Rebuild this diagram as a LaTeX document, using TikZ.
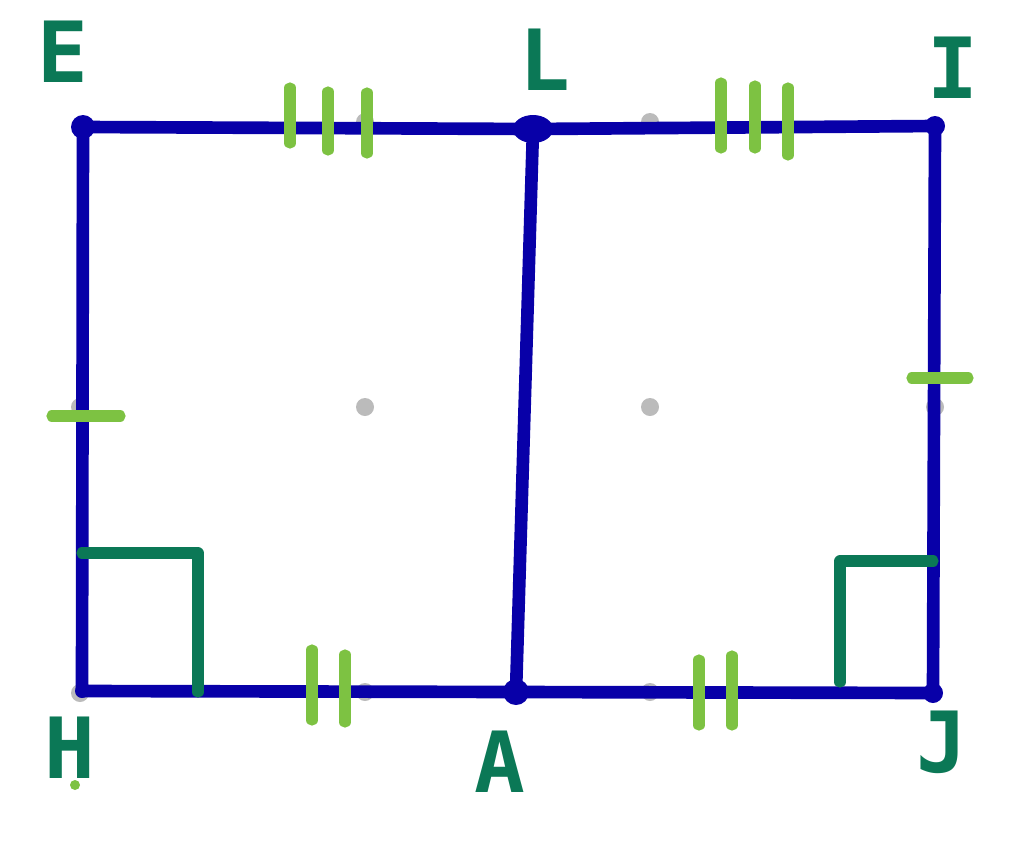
\documentclass[tikz,border=0pt]{standalone}
\usepackage{fontspec}
\newfontfamily\lblfont{DejaVu Sans Mono}
\definecolor{edgeblue}{HTML}{0800A8}
\definecolor{markgreen}{HTML}{0B7856}
\definecolor{tickgreen}{HTML}{7DC242}
\definecolor{griddot}{HTML}{BBBBBB}
\begin{document}
\begin{tikzpicture}[x=0.01cm,y=-0.01cm,
  edge/.style={draw=edgeblue,line width=3.6pt,line cap=round,line join=round},
  vdot/.style={fill=edgeblue},
  gdot/.style={fill=griddot},
  tick/.style={draw=tickgreen,line width=3.2pt,line cap=round},
  rangle/.style={draw=markgreen,line width=3.2pt,line cap=round,line join=round},
  lbl/.style={text=markgreen,font=\lblfont\bfseries\fontsize{24}{24}\selectfont,inner sep=0pt}]
\useasboundingbox (0,0) rectangle (1024,848);
% grid dots
\foreach \p in {(365,122),(650,122),(80,407),(365,407),(650,407),(935,407),(80,693),(365,692),(650,692)}
  \fill[gdot] \p circle (9);
% vertices
\coordinate (E) at (83,127);
\coordinate (L) at (533,129);
\coordinate (I) at (935,126);
\coordinate (H) at (82,691);
\coordinate (A) at (516,692);
\coordinate (J) at (933,693);
% edges
\draw[edge] (E) -- (L) -- (I) -- (J) -- (A) -- (H) -- cycle;
\draw[edge] (L) -- (A);
% vertex dots
\fill[vdot] (E) circle (12);
\fill[vdot] (L) ellipse (20 and 14);
\fill[vdot] (I) circle (10);
\fill[vdot] (A) circle (13);
\fill[vdot] (J) circle (10);
\fill[vdot] (H) circle (7);
% right angle marks
\draw[rangle] (82,553) -- (198,553) -- (198,692);
\draw[rangle] (933,561) -- (840,561) -- (840,682);
% tick marks
\draw[tick] (290,88) -- (290,143);
\draw[tick] (328,92) -- (328,150);
\draw[tick] (367,93) -- (367,153);
\draw[tick] (721,83) -- (721,148);
\draw[tick] (755,86) -- (755,148);
\draw[tick] (788,88) -- (788,155);
\draw[tick] (312,650) -- (312,720);
\draw[tick] (345,655) -- (345,722);
\draw[tick] (699,660) -- (699,725);
\draw[tick] (732,656) -- (732,725);
\draw[tick] (52,416) -- (120,416);
\draw[tick] (912,378) -- (968,378);
% labels
\node[lbl] (lE) at (63,52) {E};
\node[lbl] (lL) at (545,60) {L};
\node[lbl] (lI) at (953,68) {I};
\node[lbl] (lH) at (70,748) {H};
\node[lbl] (lA) at (500,762) {A};
\node[lbl] (lJ) at (942,742) {J};
\fill[tickgreen] (75,785) circle (5);
\end{tikzpicture}
\end{document}
